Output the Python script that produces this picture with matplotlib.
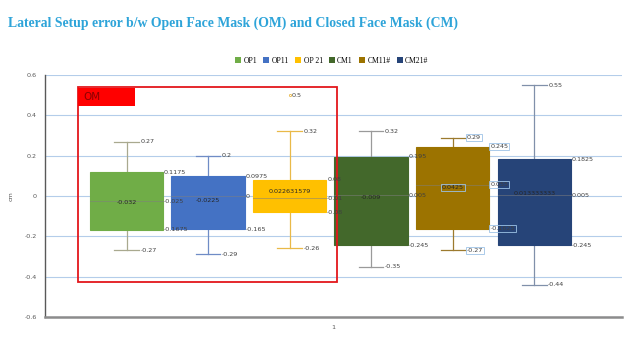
import matplotlib
matplotlib.use('Agg')
import matplotlib.pyplot as plt
from matplotlib.patches import Rectangle

# box statistics
groups = ['OP1', 'OP11', 'OP 21', 'CM1', 'CM11#', 'CM21#']
q3 = [0.1175, 0.0975, 0.08, 0.195, 0.245, 0.1825]
median = [-0.025, 0, -0.01, 0.005, 0.055, 0.005]
q1 = [-0.1675, -0.165, -0.08, -0.245, -0.1625, -0.245]
mean = [-0.032, -0.0225, 0.022631579, -0.009, 0.0425, 0.013333333]
wmax = [0.27, 0.2, 0.32, 0.32, 0.29, 0.55]
wmin = [-0.27, -0.29, -0.26, -0.35, -0.27, -0.44]
outliers = {2: [0.5]}
median_txt = ['-0.025', '0', '-0.01', '0.005', '0.055', '0.005']
mean_txt = ['-0.032', '-0.0225', '0.022631579', '-0.009', '0.0425', '0.013333333']
q1_txt = ['-0.1675', '-0.165', '-0.08', '-0.245', '-0.1625', '-0.245']
q3_txt = ['0.1175', '0.0975', '0.08', '0.195', '0.245', '0.1825']

colors = ['#70AD47', '#4472C4', '#FFC000', '#43682B', '#9C7300', '#264478']
whisker_colors = ['#A9A98F', '#6F8CC6', '#E9B948', '#9A9A9A', '#9C7A2E', '#8090AA']

fig = plt.figure(figsize=(6.38, 3.59), dpi=100)
ax = fig.add_axes([0.0705, 0.117, 0.905, 0.674])

pos = list(range(1, len(groups) + 1))
width = 0.9
cap = 0.3
label_kw = dict(fontsize=4.6, color='#404040', va='center', ha='left', zorder=8)

for i, p in enumerate(pos):
    c = colors[i]
    wc = whisker_colors[i]
    ax.add_patch(Rectangle((p - width / 2, q1[i]), width, q3[i] - q1[i],
                           facecolor=c, edgecolor=c, lw=0.8, zorder=3))
    ax.plot([p, p], [q3[i], wmax[i]], color=wc, lw=0.9, zorder=2)
    ax.plot([p, p], [q1[i], wmin[i]], color=wc, lw=0.9, zorder=2)
    ax.plot([p - cap / 2, p + cap / 2], [wmax[i]] * 2, color=wc, lw=0.9, zorder=2)
    ax.plot([p - cap / 2, p + cap / 2], [wmin[i]] * 2, color=wc, lw=0.9, zorder=2)
    ax.plot([p - width / 2, p + width / 2], [median[i]] * 2, color='#7F7F7F',
            lw=0.6, alpha=0.6, zorder=4)

    boxed = dict(boxstyle='square,pad=0.15', fc='none', ec='#9DC3E6', lw=0.6) if i == 4 else None
    ax.text(p + cap / 2 + 0.02, wmax[i], '%g' % wmax[i], bbox=boxed, **label_kw)
    ax.text(p + cap / 2 + 0.02, wmin[i], '%g' % wmin[i], bbox=boxed, **label_kw)
    ax.text(p + width / 2 + 0.01, q3[i], q3_txt[i], bbox=boxed, **label_kw)
    ax.text(p + width / 2 + 0.01, median[i], median_txt[i], bbox=boxed, **label_kw)
    ax.text(p + width / 2 + 0.01, q1[i], q1_txt[i], bbox=boxed, **label_kw)
    ax.text(p, mean[i], mean_txt[i], fontsize=4.6, color='#262626',
            ha='center', va='center', zorder=5, bbox=boxed)

    for o in outliers.get(i, []):
        ax.plot(p, o, 'o', ms=1.6, mfc='none', mec=wc, mew=0.6, zorder=4)
        ax.text(p + 0.03, o, '%g' % o, **label_kw)

# red frame around the OM group
ax.add_patch(Rectangle((0.405, -0.426), 3.175, 0.966, fill=False,
                       edgecolor='#E3171B', lw=1.3, zorder=6))
ax.add_patch(Rectangle((0.405, 0.446), 0.70, 0.09, facecolor='#FF0000',
                       edgecolor='none', zorder=6))
ax.text(0.47, 0.49, 'OM', fontsize=7.5, color='#8B0000', va='center', ha='left', zorder=7)

ax.set_xlim(0, 7.08)
ax.set_ylim(-0.6, 0.6)
ax.set_yticks([-0.6, -0.4, -0.2, 0, 0.2, 0.4, 0.6])
ax.set_yticklabels(['-0.6', '-0.4', '-0.2', '0', '0.2', '0.4', '0.6'])
ax.set_xticks([3.53])
ax.set_xticklabels(['1'])
ax.tick_params(axis='both', length=0, labelsize=4.6, labelcolor='#595959', pad=6)
ax.yaxis.grid(True, color='#B4CDEA', lw=0.8)
ax.set_axisbelow(True)
ax.set_ylabel('cm', fontsize=4.6, color='#595959', labelpad=8)

for s in ['top', 'right']:
    ax.spines[s].set_visible(False)
ax.spines['left'].set_color('#595959')
ax.spines['left'].set_linewidth(1.0)
ax.spines['bottom'].set_color('#8C8C8C')
ax.spines['bottom'].set_linewidth(1.8)

handles = [Rectangle((0, 0), 1, 1, facecolor=c) for c in colors]
fig.legend(handles, groups, loc='center', bbox_to_anchor=(0.52, 0.83), ncol=6,
           frameon=False, prop={'family': 'Liberation Serif', 'size': 5.5},
           handlelength=0.8, handleheight=0.8, handletextpad=0.3, columnspacing=0.8)

fig.text(0.0125, 0.935, 'Lateral Setup error b/w Open Face Mask (OM) and Closed Face Mask (CM)',
         fontsize=9.9, fontweight='bold', family='Liberation Serif', color='#2EA4D9',
         va='center', ha='left')

fig.savefig('out.png', dpi=100)
